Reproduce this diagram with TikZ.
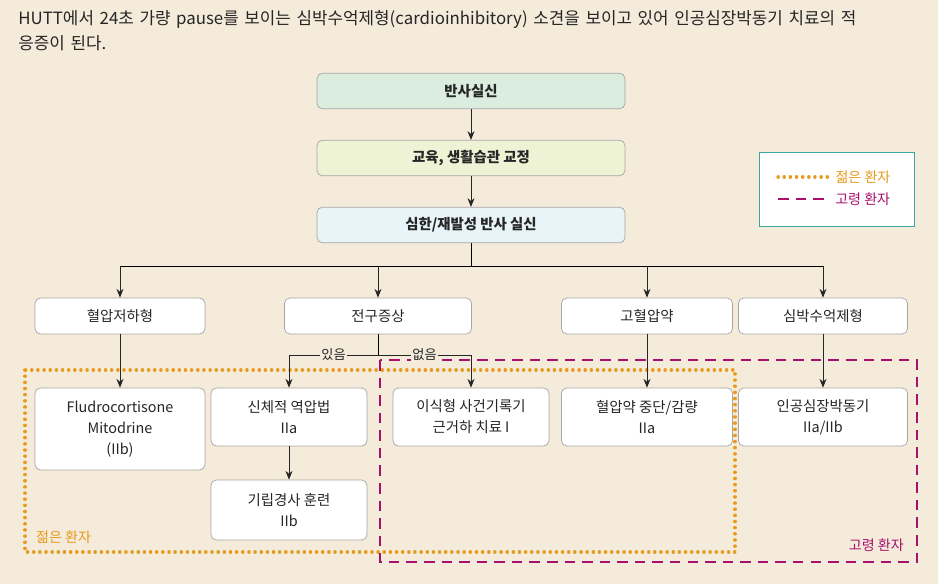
\documentclass[tikz,border=0pt]{standalone}
\usepackage{fontspec}
\setmainfont{Noto Sans CJK KR}
\usetikzlibrary{arrows.meta,positioning}
\definecolor{bg}{HTML}{F4EBDA}
\definecolor{young}{HTML}{E89A1C}
\definecolor{old}{HTML}{A8106E}
\definecolor{legend}{HTML}{3AA8A0}
\definecolor{faintfill}{HTML}{DAEDDF}
\definecolor{edufill}{HTML}{EEF3D6}
\definecolor{severefill}{HTML}{E8F4F7}
\begin{document}
\begin{tikzpicture}[x=0.02cm,y=-0.02cm,
  box/.style={draw=gray!70, rounded corners=3pt, fill=white, align=center,
    inner sep=1pt, font=\fontsize{8.2}{12}\selectfont, text=black!85},
  topbox/.style={box, minimum width=6.16cm, minimum height=0.71cm, font=\fontsize{8.2}{12}\selectfont\bfseries},
  rowbox/.style={box, minimum height=0.72cm},
  arr/.style={-{Stealth[length=5pt,width=4pt]}, black!85, line width=0.5pt},
  lbl/.style={fill=bg, inner sep=1pt, font=\fontsize{7.5}{8}\selectfont},
  youngline/.style={young, line width=1.9pt, dash pattern=on 0.1pt off 3.4pt, line cap=round},
  oldline/.style={old, line width=1.6pt, dash pattern=on 6pt off 4pt}]
\fill[bg] (0,0) rectangle (938,584);
\useasboundingbox (0,0) rectangle (938,584);
\node[anchor=north west, align=left, text width=18.2cm, font=\fontsize{9.6}{14}\selectfont, text=black!85, inner sep=0pt] (title) at (18,10)
  {HUTT에서 24초 가량 pause를 보이는 심박수억제형(cardioinhibitory) 소견을 보이고 있어 인공심장박동기 치료의 적\\응증이 된다.};
% top chain
\node[topbox, fill=faintfill] (faint) at (471,91) {반사실신};
\node[topbox, fill=edufill] (edu) at (471,158) {교육, 생활습관 교정};
\node[topbox, fill=severefill] (severe) at (471,225) {심한/재발성 반사 실신};
\draw[arr] (faint) -- (edu);
\draw[arr] (edu) -- (severe);
% legend
\node[draw=legend, fill=white, minimum width=3.1cm, minimum height=1.48cm] (leg) at (837,189) {};
\coordinate (ly1) at (778,177); \coordinate (ly2) at (828,177);
\coordinate (lo1) at (778,199); \coordinate (lo2) at (828,199);
\draw[youngline] (ly1) -- (ly2) node[right, font=\fontsize{8}{9}\selectfont] {젊은 환자};
\draw[oldline] (lo1) -- (lo2) node[right, font=\fontsize{8}{9}\selectfont] {고령 환자};
% second row
\node[rowbox, minimum width=3.4cm] (hypo) at (120,316) {혈압저하형};
\node[rowbox, minimum width=3.74cm] (pro) at (378,316) {전구증상};
\node[rowbox, minimum width=3.42cm] (htn) at (647,316) {고혈압약};
\node[rowbox, minimum width=3.38cm] (cardio) at (823,316) {심박수억제형};
\coordinate (split) at (471,266);
\draw (severe.south) -- (split);
\draw (120,266) -- (823,266);
\foreach \n/\x in {hypo/120, pro/378, htn/647, cardio/823}
  \draw[arr] (\x,266) -- (\n.north);
% young / old regions
\draw[youngline] (25,370) rectangle (735,552);
\draw[oldline] (380,360) rectangle (917,562);
\node[young, anchor=west, font=\fontsize{8}{9}\selectfont] at (30,537) {젊은 환자};
\node[old, anchor=east, font=\fontsize{8}{9}\selectfont] at (910,545) {고령 환자};
% third row
\node[rowbox, minimum width=3.4cm, minimum height=1.64cm] (fludro) at (120,429) {Fludrocortisone\\Mitodrine\\(IIb)};
\node[rowbox, minimum width=3.12cm, minimum height=1.16cm] (phys) at (289,417) {신체적 역압법\\IIa};
\node[rowbox, minimum width=3.12cm, minimum height=1.2cm] (tilt) at (289,510) {기립경사 훈련\\IIb};
\node[rowbox, minimum width=3.12cm, minimum height=1.16cm] (ilr) at (471,417) {이식형 사건기록기\\근거하 치료 I};
\node[rowbox, minimum width=3.42cm, minimum height=1.16cm] (stop) at (647,417) {혈압약 중단/감량\\IIa};
\node[rowbox, minimum width=3.38cm, minimum height=1.16cm] (pace) at (823,417) {인공심장박동기\\IIa/IIb};
\draw[arr] (hypo) -- (fludro);
\draw[arr] (htn) -- (stop);
\draw[arr] (cardio) -- (pace);
\draw[arr] (phys) -- (tilt);
\coordinate (pj) at (378,355);
\draw (pro.south) -- (pj);
\draw[arr] (pj) -- node[lbl, pos=0.5] {있음} (289,355) -- (phys.north);
\draw[arr] (pj) -- node[lbl, pos=0.5] {없음} (471,355) -- (ilr.north);
\end{tikzpicture}
\end{document}
